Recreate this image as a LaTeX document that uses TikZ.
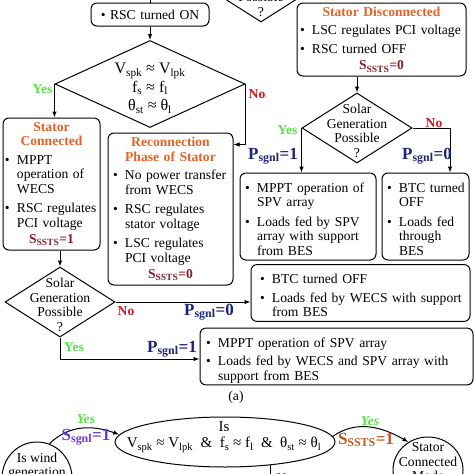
\documentclass[tikz,border=0pt]{standalone}
\usepackage{fontspec}
\setmainfont{Liberation Serif}
\usetikzlibrary{shapes.geometric,arrows.meta}
\definecolor{titleorange}{RGB}{228,98,38}
\definecolor{switchred}{RGB}{135,28,40}
\definecolor{yesgreen}{RGB}{86,226,70}
\definecolor{nored}{RGB}{218,22,32}
\definecolor{signalblue}{RGB}{28,36,118}
\definecolor{wecspurple}{RGB}{104,56,222}
\definecolor{sstsbrown}{RGB}{200,84,30}
\begin{document}
\begin{tikzpicture}[x=1pt,y=-1pt,line width=1pt,
  every node/.style={font=\fontsize{13.6}{14.5}\selectfont},
  box/.style={draw,rounded corners=6pt,inner xsep=5pt,inner ysep=0.5pt,align=left},
  cond/.style={draw,diamond,inner sep=0pt,minimum width=110pt,minimum height=70pt},
  oval/.style={draw,ellipse,inner sep=0pt},
  txt/.style={inner sep=0pt,align=center},
  flow/.style={-{Latex[length=6pt,width=4.5pt]}}]
\newcommand{\mytitle}[1]{{\centering\bfseries\color{titleorange}#1\par}}
\newcommand{\myitem}[1]{\par\vspace{4pt}\noindent\makebox[12pt][l]{\textbullet}\begin{tabular}[t]{@{}l@{}}#1\end{tabular}\par}
\newcommand{\myswitch}[1]{\par\vspace{2pt}{\centering\bfseries\color{switchred}S\textsubscript{SSTS}=#1\par}}
\newcommand{\mysignal}[1]{{\fontsize{17}{19}\selectfont\bfseries\color{signalblue}P\textsubscript{sgnl}=#1}}
\newcommand{\myyes}{{\bfseries\color{yesgreen}Yes}}
\newcommand{\myno}{{\bfseries\color{nored}No}}
\useasboundingbox (0,0) rectangle (474,474);
\clip (0,0) rectangle (474,474);
%Upper left column
\coordinate (topin) at (150,-20);
\coordinate (centerRSC) at (150,14.5);
\node[box,align=center,text width=108pt,minimum height=23pt] (rscon) at (centerRSC) {\textbullet\ RSC turned ON};
%Synchronisation check
\coordinate (centerSync) at (150,84);
\coordinate (centerSyncT) at (150,88.5);
\node[cond,minimum width=190pt,minimum height=87pt] (sync) at (centerSync) {};
\node[txt,font=\fontsize{16}{16.5}\selectfont] (syncT) at (centerSyncT) {V\textsubscript{spk} ≈ V\textsubscript{lpk}\\[2pt] f\textsubscript{s} ≈ f\textsubscript{l}\\[2pt] θ\textsubscript{st} ≈ θ\textsubscript{l}};
%Stator connected
\coordinate (centerSC) at (51.5,184);
\node[box,inner xsep=2pt,text width=93pt,minimum height=132pt] (sc) at (centerSC) {\mytitle{Stator\\Connected}
\myitem{MPPT\\ operation of\\ WECS}
\myitem{RSC regulates\\ PCI voltage}
\myswitch{1}};
%Reconnection phase
\coordinate (centerRP) at (170.5,209);
\node[box,text width=115pt,minimum height=152pt] (rp) at (centerRP) {\mytitle{Reconnection\\Phase of Stator}
\myitem{No power transfer\\ from WECS}
\myitem{RSC regulates\\ stator voltage}
\myitem{LSC regulates\\ PCI voltage}
\myswitch{0}};
%Upper right column
\coordinate (centerSG1) at (261,-13);
\coordinate (centerSG1T) at (261,-10);
\node[cond] (sg1) at (centerSG1) {};
\node[txt] (sg1T) at (centerSG1T) {Solar\\Generation\\Possible\\?};
\coordinate (centerSD) at (381.5,39.5);
\node[box,inner xsep=3pt,text width=163pt,minimum height=73pt] (sd) at (centerSD) {\mytitle{Stator Disconnected}
\myitem{LSC regulates PCI voltage}
\myitem{RSC turned OFF}
\myswitch{0}};
\coordinate (centerSG2) at (357,128);
\coordinate (centerSG2T) at (357,131);
\node[cond] (sg2) at (centerSG2) {};
\node[txt] (sg2T) at (centerSG2T) {Solar\\Generation\\Possible\\?};
\coordinate (centerSPV) at (308,216.5);
\node[box,text width=126pt,minimum height=87pt] (spv) at (centerSPV) {\myitem{MPPT operation of\\ SPV array}
\myitem{Loads fed by SPV\\ array with support\\ from BES}};
\coordinate (centerBTC) at (425.5,216.5);
\node[box,text width=77pt,minimum height=87pt] (btc) at (centerBTC) {\myitem{BTC turned\\ OFF}
\myitem{Loads fed\\ through\\ BES}};
%Lower solar check
\coordinate (centerSG3) at (60,302);
\coordinate (centerSG3T) at (60,305);
\node[cond] (sg3) at (centerSG3) {};
\node[txt] (sg3T) at (centerSG3T) {Solar\\Generation\\Possible\\?};
\coordinate (centerBW) at (360.5,293);
\node[box,inner xsep=9pt,text width=201pt,minimum height=50pt] (bw) at (centerBW) {\myitem{BTC turned OFF}
\myitem{Loads fed by WECS with support\\ from BES}};
\coordinate (centerFB) at (336.5,356.5);
\node[box,inner xsep=6pt,text width=261pt,minimum height=53pt] (fb) at (centerFB) {\myitem{MPPT operation of SPV array}
\myitem{Loads fed by WECS and SPV array with\\ support from BES}};
\coordinate (centerCap) at (236,397);
\node[txt] (cap) at (centerCap) {(a)};
%Connectors of part (a)
\draw (topin) -- (rscon);
\draw[flow] (rscon) -- (sync);
\draw[flow] (sync.west) -- (sync.west |- sc.north);
\draw[flow] (sync.east) |- ([yshift=-12pt]rp.north east);
\draw[flow] (sc.south -| sg3.north) -- (sg3.north);
\draw[flow] (sg3.east) -- (sg3.east -| bw.west);
\draw[flow] (sg3.south) |- ([yshift=-2.5pt]fb.west);
\draw[flow] (sd.south -| sg2.north) -- (sg2.north);
\draw[flow] (sg2.west) -- (sg2.west |- spv.north);
\draw[flow] (sg2.east) -| ([xshift=24.5pt]btc.north);
%Labels of part (a)
\coordinate (yesSync) at (42.5,89);
\coordinate (noSync) at (257,94);
\coordinate (yesSG2) at (287.5,130);
\coordinate (pSGtwoA) at (273,156);
\coordinate (noSG2) at (434,123);
\coordinate (pSGtwoB) at (427,156);
\coordinate (noSG3) at (126,311);
\coordinate (pSGthreeB) at (209,312);
\coordinate (yesSG3) at (74,347);
\coordinate (pSGthreeA) at (172,349);
\node[txt] (lblYesSync) at (yesSync) {\myyes};
\node[txt] (lblNoSync) at (noSync) {\myno};
\node[txt] (lblYesSG2) at (yesSG2) {\myyes};
\node[txt] (lblPSGtwoA) at (pSGtwoA) {\mysignal{1}};
\node[txt] (lblNoSG2) at (noSG2) {\myno};
\node[txt] (lblPSGtwoB) at (pSGtwoB) {\mysignal{0}};
\node[txt] (lblNoSG3) at (noSG3) {\myno};
\node[txt] (lblPSGthreeB) at (pSGthreeB) {\mysignal{0}};
\node[txt] (lblYesSG3) at (yesSG3) {\myyes};
\node[txt] (lblPSGthreeA) at (pSGthreeA) {\mysignal{1}};
%Part (b)
\coordinate (centerWG) at (37,478);
\coordinate (centerWGT) at (37,466);
\node[oval,minimum width=70pt,minimum height=72pt] (wg) at (centerWG) {};
\node[txt] (wgT) at (centerWGT) {Is wind\\generation};
\coordinate (centerBig) at (225,442);
\coordinate (centerBigT) at (224,437);
\node[oval,minimum width=220pt,minimum height=50pt] (big) at (centerBig) {};
\node[txt,font=\fontsize{15}{15.5}\selectfont] (bigT) at (centerBigT) {Is\\[1pt] V\textsubscript{spk} ≈ V\textsubscript{lpk}\ \ \&\ \ f\textsubscript{s} ≈ f\textsubscript{l}\ \ \&\ \ θ\textsubscript{st} ≈ θ\textsubscript{l}};
\coordinate (centerCM) at (428,470);
\coordinate (centerCMT) at (428,462);
\node[oval,minimum width=70pt,minimum height=66pt] (cm) at (centerCM) {};
\node[txt] (cmT) at (centerCMT) {Stator\\Connected\\Mode};
\coordinate (noout) at (270,490);
\draw[flow] (wg.70) to[out=45,in=160] (big.176);
\draw[flow] (big.3) to[out=35,in=150] (cm.125);
\draw (big.333) -- (big.333 |- noout);
\coordinate (yesWG) at (86,419);
\coordinate (sWG) at (86,437);
\coordinate (yesBig) at (370,421);
\coordinate (sBig) at (366,440);
\coordinate (noBig) at (285,478);
\node[txt] (lblYesWG) at (yesWG) {\bfseries\itshape\color{yesgreen}Yes};
\node[txt,font=\fontsize{17}{19}\selectfont] (lblSWG) at (sWG) {\bfseries\color{wecspurple}S\textsubscript{sgnl}=1};
\node[txt] (lblYesBig) at (yesBig) {\bfseries\itshape\color{yesgreen}Yes};
\node[txt,font=\fontsize{17}{19}\selectfont] (lblSBig) at (sBig) {\bfseries\color{sstsbrown}S\textsubscript{SSTS}=1};
\node[txt] (lblNoBig) at (noBig) {\myno};
\end{tikzpicture}
\end{document}
